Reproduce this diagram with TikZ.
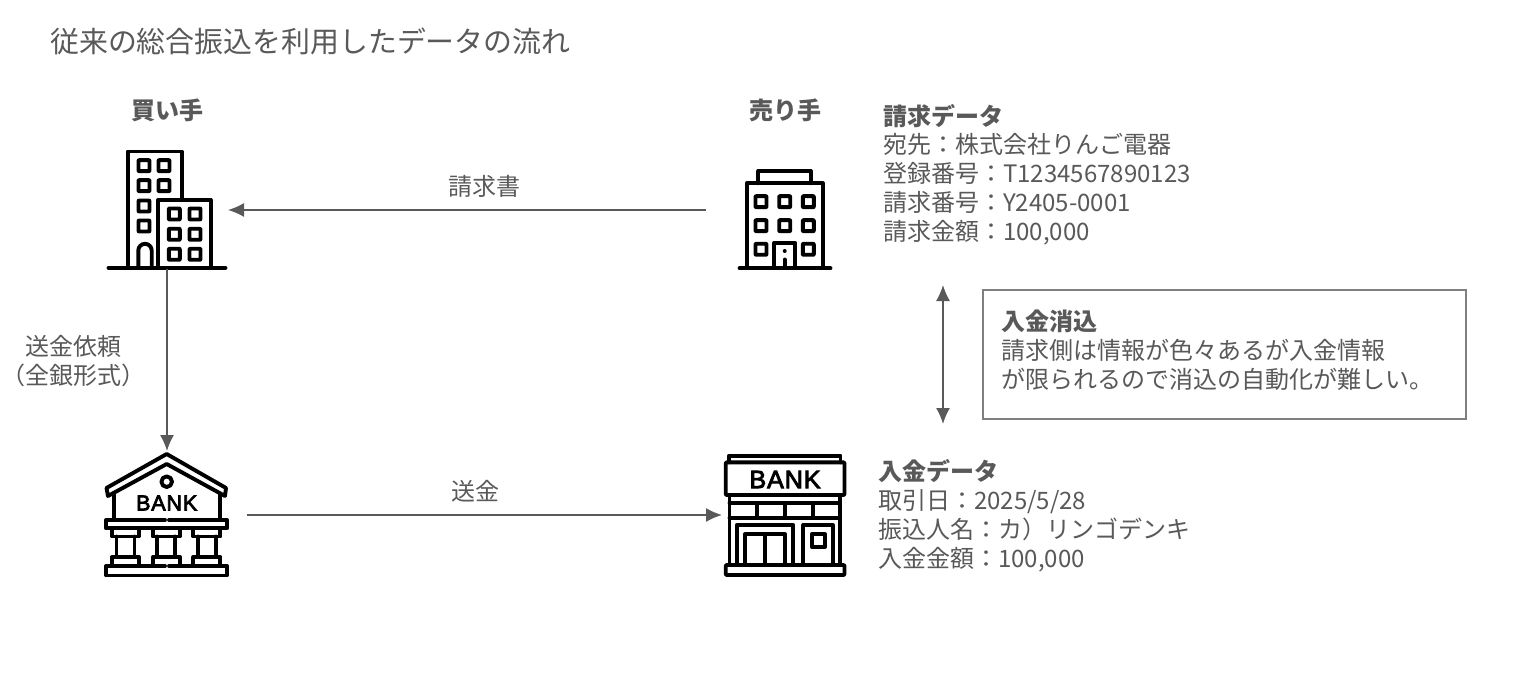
\documentclass[tikz,border=0pt]{standalone}
\usepackage{fontspec}
\setmainfont{Noto Sans CJK JP}
\newfontfamily\banklogo[LetterSpace=4,FakeBold=3.5]{Liberation Sans}
\definecolor{txt}{HTML}{595959}
\definecolor{boxln}{HTML}{7F7F7F}
\tikzset{
  icon/.style={line width=3.9pt,black,line join=round,line cap=round},
  flow/.style={draw=txt,line width=1.5pt,-{Latex[length=16pt,width=14pt]}},
  both/.style={draw=txt,line width=1.5pt,{Latex[length=16pt,width=14pt]}-{Latex[length=16pt,width=14pt]}},
  lab/.style={text=txt,font=\fontsize{24}{29}\selectfont,inner sep=0pt,align=left},
  mid/.style={text=txt,font=\fontsize{24}{29}\selectfont,inner sep=0pt,align=center},
  head/.style={text=txt,font=\fontsize{24}{29}\selectfont\bfseries,inner sep=0pt},
  anchorbox/.style={inner sep=0pt,outer sep=0pt},
}
\usetikzlibrary{arrows.meta}
\newcommand{\winbox}[3]{\draw[icon,rounded corners=0.5pt] (#1-#3,#2-#3) rectangle (#1+#3,#2+#3);}
\begin{document}
\begin{tikzpicture}[x=1pt,y=-1pt]
\useasboundingbox (0,0) rectangle (1536,676);
\fill[white] (0,0) rectangle (1536,676);
% title
\node[anchor=west,text=txt,inner sep=0pt,font=\fontsize{28.9}{34}\selectfont] (title) at (50,41) {従来の総合振込を利用したデータの流れ};
% heads
\node[head] (hbuy) at (167,110) {買い手};
\node[head] (hsell) at (785,110) {売り手};
% anchors for connectors
\node[anchorbox,minimum width=122pt,minimum height=118pt] (buyer) at (167,210) {};
\node[anchorbox,minimum width=158pt,minimum height=100pt] (seller) at (785,210) {};
\node[anchorbox,minimum width=159pt,minimum height=128pt] (bankA) at (167,515) {};
\node[anchorbox,minimum width=126pt,minimum height=120pt] (bankB) at (785,515) {};
\coordinate (reqtop) at (943,285);
\coordinate (reqbot) at (943,424);
% buyer icon
\draw[icon] (127.7,267.7) -- (127.7,151.5) -- (181.7,151.5) -- (181.7,199);
\draw[icon] (158,267.7) -- (158,200) -- (210.7,200) -- (210.7,267.7);
\draw[icon] (108.5,267.7) -- (225.5,267.7);
\foreach \y in {165.7,185.7}{\winbox{144}{\y}{5.5}\winbox{164}{\y}{5.5}}
\foreach \y in {206,226}{\winbox{144}{\y}{5.5}}
\foreach \x in {174.3,195}\foreach \y in {214,234.3,254.3}{\winbox{\x}{\y}{5.5}}
\draw[icon] (138.3,267.7) -- (138.3,250.5) arc[start angle=180,end angle=360,radius=6.7] -- (151.7,267.7);
% seller icon
\draw[icon] (758.3,183.3) -- (758.3,171) -- (810.7,171) -- (810.7,183.3);
\draw[icon] (746.7,268) -- (746.7,183.3) -- (822.7,183.3) -- (822.7,268);
\draw[icon] (739.5,268.3) -- (830.5,268.3);
\foreach \x in {761,784.7,808.3}\foreach \y in {201.7,225.7}{\winbox{\x}{\y}{5.5}}
\foreach \x in {761,808.3}{\winbox{\x}{249.3}{5.5}}
\draw[icon] (774,268) -- (774,243) -- (795.3,243) -- (795.3,268);
\fill[black] (784.7,251) circle (2pt);
\draw[icon] (784.7,259.5) -- (784.7,268);
% bank A icon
\draw[icon] (166.7,454) -- (226,488) -- (225,496) -- (166.7,464) -- (108,496) -- (106.5,488) -- cycle;
\draw[icon] (114,495) -- (114,520);
\draw[icon] (220,495) -- (220,520);
\draw[icon] (166.7,481.7) circle (5.3pt);
\node[anchorbox,font=\banklogo\fontsize{21.5}{22}\selectfont,black] (logoA) at (166.7,503) {BANK};
\draw[icon] (165,520) -- (106,520) -- (106,528.3) -- (227,528.3) -- (227,520) -- (169,520);
\foreach \x in {125.5,166.4,206.9}{
  \draw[icon] (\x-13.5,528.3) -- (\x-13.5,536.5) -- (\x+13.5,536.5) -- (\x+13.5,528.3);
  \draw[icon] (\x-9,536.5) -- (\x-9,557) (\x+9,536.5) -- (\x+9,557);
  \draw[icon] (\x-13.5,566) -- (\x-13.5,557) -- (\x+13.5,557) -- (\x+13.5,566);
}
\draw[icon] (165,566) -- (106,566) -- (106,575.5) -- (227,575.5) -- (227,566) -- (169,566);
% bank B icon
\draw[icon] (729,462.3) -- (729,455.7) -- (840.5,455.7) -- (840.5,462.3);
\draw[icon,rounded corners=1pt] (725.7,462.3) rectangle (844.5,495);
\node[anchorbox,font=\banklogo\fontsize{25}{25}\selectfont,black] (logoB) at (785,479.5) {BANK};
\draw[icon] (729.5,495) -- (729.5,565) (840,495) -- (840,565);
\draw[icon] (729.5,503.3) -- (840,503.3) (729.5,517.7) -- (840,517.7);
\foreach \x in {757.3,785,812.7}{\draw[icon] (\x,503.3) -- (\x,517.7);}
\draw[icon] (736.7,565) -- (736.7,525) -- (793.3,525) -- (793.3,565);
\draw[icon] (745,565) -- (745,534.3) -- (785,534.3) -- (785,565) (765,534.3) -- (765,565);
\draw[icon] (803.3,565) -- (803.3,525) -- (832.7,525) -- (832.7,565);
\draw[icon] (811.7,534.3) rectangle (825,546.7);
\draw[icon,rounded corners=1pt] (725.7,565) rectangle (844.5,575);
% connectors
\draw[flow] (seller.west) -- (buyer.east);
\draw[flow] (buyer.south) -- (bankA.north);
\draw[flow] (bankA.east) -- (bankB.west);
\draw[both] (reqtop) -- (reqbot);
% connector labels
\node[mid] (l1) at (484,186) {請求書};
\node[mid] (l2) at (73.5,361) {送金依頼\\（全銀形式）};
\node[mid] (l3) at (475,491) {送金};
% billing data
\node[anchor=north west,head] (d1h) at (883,104) {請求データ};
\node[anchor=north west,lab] (d1) at (883,133) {宛先：株式会社りんご電器\\登録番号：T1234567890123\\請求番号：Y2405-0001\\請求金額：100,000};
% deposit data
\node[anchor=north west,head] (d2h) at (878,459) {入金データ};
\node[anchor=north west,lab] (d2) at (878,489) {取引日：2025/5/28\\振込人名：カ）リンゴデンキ\\入金金額：100,000};
% box
\draw[draw=boxln,line width=2pt] (983,290) rectangle (1466,419);
\node[anchor=north west,head] (bh) at (1001,310) {入金消込};
\node[anchor=north west,lab] (bt) at (1001,339) {請求側は情報が色々あるが入金情報\\が限られるので消込の自動化が難しい。};
\end{tikzpicture}
\end{document}
